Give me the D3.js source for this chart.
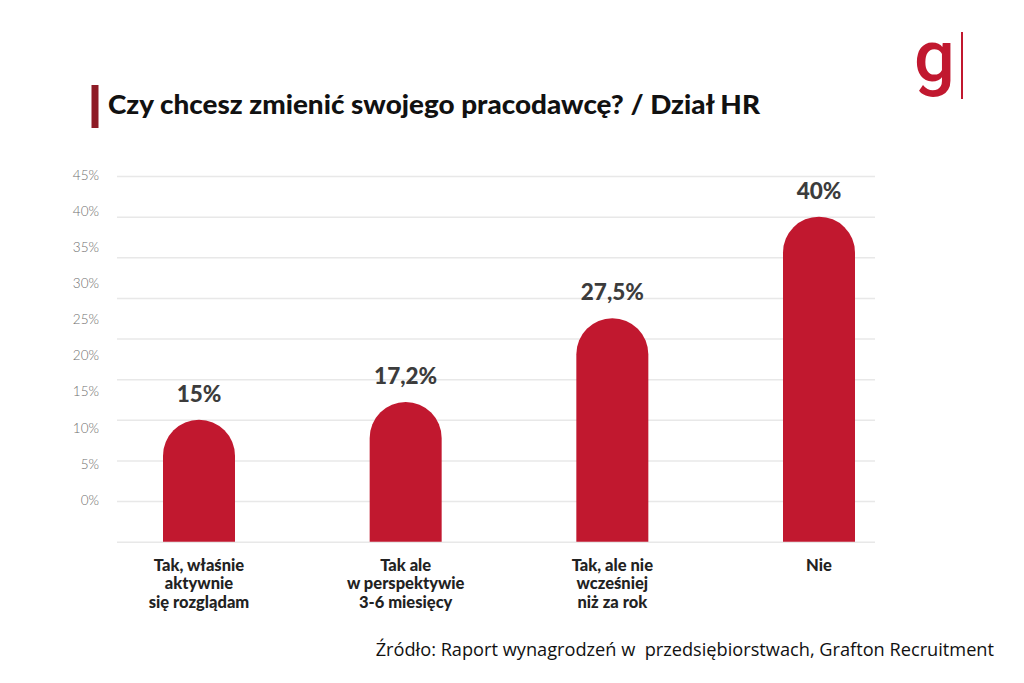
<!DOCTYPE html>
<html>
<head>
<meta charset="utf-8">
<script src="https://cdn.jsdelivr.net/npm/d3@7"></script>
<style>
  html, body { margin: 0; padding: 0; background: #fff; }
  svg { display: block; }
</style>
</head>
<body>
<div id="chart"></div>
<script>
// chart data
const categories = [
  ["Tak, właśnie", "aktywnie", "się rozglądam"],
  ["Tak ale", "w perspektywie", "3-6 miesięcy"],
  ["Tak, ale nie", "wcześniej", "niż za rok"],
  ["Nie"]
];
const values = [15, 17.2, 27.5, 40];
const valueLabels = ["15%", "17,2%", "27,5%", "40%"];
const tickValues = [0, 5, 10, 15, 20, 25, 30, 35, 40, 45];

const title = "Czy chcesz zmienić swojego pracodawcę? / Dział HR";
const source = "Źródło: Raport wynagrodzeń w \u00a0przedsiębiorstwach, Grafton Recruitment";

const width = 1024, height = 683;
const red = "#c1182f";

const svg = d3.select("#chart")
  .append("svg")
  .attr("width", width)
  .attr("height", height);

// scales
const y = d3.scaleLinear().domain([0, 45]).range([541.7, 176]);
// the tick labels in the original sit on their own, tighter spacing
const yLabel = d3.scaleLinear().domain([0, 45]).range([500, 175]);
const x = d3.scalePoint().domain(d3.range(values.length)).range([199, 819]);
const barWidth = 72;

// gridlines
svg.append("g")
  .attr("class", "grid")
  .attr("transform", "translate(117,0)")
  .call(d3.axisLeft(y).tickValues(tickValues).tickSize(-758).tickFormat(""))
  .call(g => g.select(".domain").remove())
  .call(g => g.selectAll("line").attr("stroke", "#e8e8e8").attr("stroke-width", 1.5));

// tick labels
svg.append("g")
  .attr("transform", "translate(99,0)")
  .call(d3.axisLeft(yLabel).tickValues(tickValues).tickSize(0).tickPadding(0).tickFormat(d => d + "%"))
  .call(g => g.select(".domain").remove())
  .call(g => g.selectAll("text")
    .attr("fill", "#6e6e6e")
    .style("font-family", "Lato, sans-serif")
    .style("font-size", "13.5px")
    .style("font-weight", 300));

// bars with rounded tops
function barPath(i) {
  const cx = x(i), r = barWidth / 2;
  const top = y(values[i]), base = y(0);
  return `M${cx - r},${base} L${cx - r},${top + r} A${r},${r} 0 0 1 ${cx + r},${top + r} L${cx + r},${base} Z`;
}

svg.append("g")
  .selectAll("path")
  .data(values)
  .enter()
  .append("path")
  .attr("d", (d, i) => barPath(i))
  .attr("fill", red);

// value labels
svg.append("g")
  .selectAll("text")
  .data(valueLabels)
  .enter()
  .append("text")
  .attr("x", (d, i) => x(i))
  .attr("y", (d, i) => y(values[i]) - 18)
  .attr("text-anchor", "middle")
  .attr("fill", "#3c3c3c")
  .style("font-family", "Lato, sans-serif")
  .style("font-size", "22.5px")
  .style("font-weight", 900)
  .text(d => d);

// category labels
const cat = svg.append("g")
  .selectAll("text")
  .data(categories)
  .enter()
  .append("text")
  .attr("text-anchor", "middle")
  .attr("fill", "#222")
  .style("font-family", "Lato, sans-serif")
  .style("font-size", "16.5px")
  .style("font-weight", 900);

cat.selectAll("tspan")
  .data((d, i) => d.map(line => ({ line, i })))
  .enter()
  .append("tspan")
  .attr("x", d => x(d.i))
  .attr("y", (d, j) => 571 + j * 18.3)
  .text(d => d.line);

// title with side bar
svg.append("rect")
  .attr("x", 91.5).attr("y", 85)
  .attr("width", 7).attr("height", 43)
  .attr("fill", "#8e1b26");

svg.append("text")
  .attr("x", 108).attr("y", 114)
  .attr("fill", "#111")
  .attr("textLength", 652)
  .attr("lengthAdjust", "spacingAndGlyphs")
  .style("font-family", "Lato, sans-serif")
  .style("font-size", "26px")
  .style("font-weight", 900)
  .text(title);

// logo
svg.append("text")
  .attr("x", 914).attr("y", 81)
  .attr("fill", red)
  .style("font-family", "Roboto, sans-serif")
  .style("font-size", "72px")
  .style("font-weight", 500)
  .text("g");

svg.append("line")
  .attr("x1", 962).attr("x2", 962)
  .attr("y1", 32).attr("y2", 99)
  .attr("stroke", red)
  .attr("stroke-width", 2);

// source
svg.append("text")
  .attr("x", 994).attr("y", 656)
  .attr("text-anchor", "end")
  .attr("fill", "#111")
  .style("font-family", "'Open Sans', sans-serif")
  .style("font-size", "18.2px")
  .text(source);
</script>
</body>
</html>
